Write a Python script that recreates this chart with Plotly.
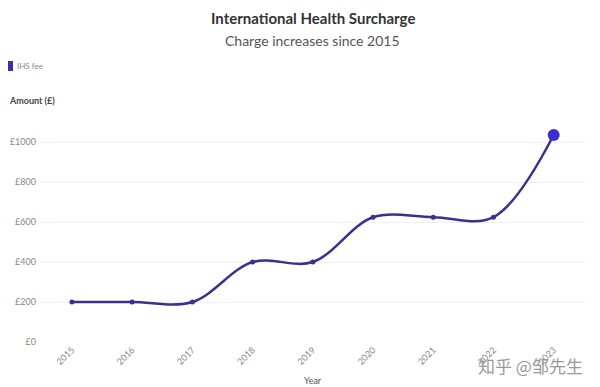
import plotly.graph_objects as go

years = ["2015", "2016", "2017", "2018", "2019", "2020", "2021", "2022", "2023"]
ihs_fee = [200, 200, 200, 400, 400, 624, 624, 624, 1035]
y_ticks = [0, 200, 400, 600, 800, 1000]
y_tick_text = ["£" + str(v) for v in y_ticks]

# page body has an 8px margin, so the figure is drawn offset by (8, 8)
OFF = 8
W, H = 600 - OFF, 387 - OFF
ml, mt = 40 - OFF, 126 - OFF
mb = H - (342 - OFF)
mr = W - (585 - OFF)

line_color = "#3f2d8f"
sizes = [5] * (len(years) - 1) + [12]
mcolors = [line_color] * (len(years) - 1) + ["#3a2ecf"]

fig = go.Figure()
fig.add_trace(go.Scatter(
    x=years, y=ihs_fee, mode="lines+markers", name="IHS fee",
    line=dict(color=line_color, width=2.5, shape="spline", smoothing=1),
    marker=dict(size=sizes, color=mcolors, opacity=1, line=dict(width=0)),
    showlegend=False,
))

fig.update_layout(
    width=W, height=H,
    margin=dict(l=ml, r=mr, t=mt, b=mb, autoexpand=False),
    paper_bgcolor="white", plot_bgcolor="white",
    font=dict(family="Lato, 'Open Sans', sans-serif", color="#888"),
    xaxis=dict(
        type="category", range=[-0.53, 8.52], automargin=False,
        tickangle=-45, tickfont=dict(size=9, color="#888"),
        showgrid=False, zeroline=False, showline=False, ticks="",
    ),
    yaxis=dict(
        range=[0, 1080], tickvals=y_ticks, ticktext=y_tick_text, automargin=False,
        tickfont=dict(size=9, color="#888"),
        gridcolor="#f0f0f0", gridwidth=1, zeroline=False, showline=False, ticks="",
        ticklabelstandoff=3,
    ),
)

pw = W - ml - mr
ph = H - mt - mb

def top_px(y):
    return mt - (y - OFF)

def left_x(x):
    return ((x - OFF) - ml) / pw

fig.add_annotation(x=0.5, y=1, xref="paper", yref="paper", yshift=top_px(18),
                   text="<b>International Health Surcharge</b>", showarrow=False,
                   font=dict(size=15, color="#333", family="Lato, sans-serif"),
                   xanchor="center", yanchor="middle")
fig.add_annotation(x=0.5, y=1, xref="paper", yref="paper", yshift=top_px(40),
                   text="Charge increases since 2015", showarrow=False,
                   font=dict(size=14, color="#555", family="Lato, sans-serif"),
                   xanchor="center", yanchor="middle")

# legend
fig.add_shape(type="rect", xref="paper", yref="paper",
              x0=left_x(8), x1=left_x(13),
              y0=1 + top_px(71) / ph, y1=1 + top_px(61) / ph,
              fillcolor="#3a2fb0", line=dict(width=0))
fig.add_annotation(x=left_x(15), y=1, xref="paper", yref="paper",
                   yshift=top_px(66), text="IHS fee", showarrow=False,
                   font=dict(size=8, color="#888"), xanchor="left", yanchor="middle")
fig.add_annotation(x=left_x(7), y=1, xref="paper", yref="paper",
                   yshift=top_px(100), text="<b>Amount (£)</b>", showarrow=False,
                   font=dict(size=9, color="#444"), xanchor="left", yanchor="middle")

# x-axis title (partly hidden at the bottom edge in the reference)
fig.add_annotation(x=0.5, y=0, xref="paper", yref="paper", yshift=-(380 - 342),
                   text="Year", showarrow=False,
                   font=dict(size=9, color="#555"), xanchor="center", yanchor="middle")

# watermark
fig.add_annotation(x=1, y=0, xref="paper", yref="paper", xshift=0, yshift=-(365 - 342),
                   text="知乎 @邹先生", showarrow=False,
                   font=dict(size=17, color="#999", family="Noto Sans CJK SC"),
                   xanchor="right", yanchor="middle")

fig.write_html("out.html")
